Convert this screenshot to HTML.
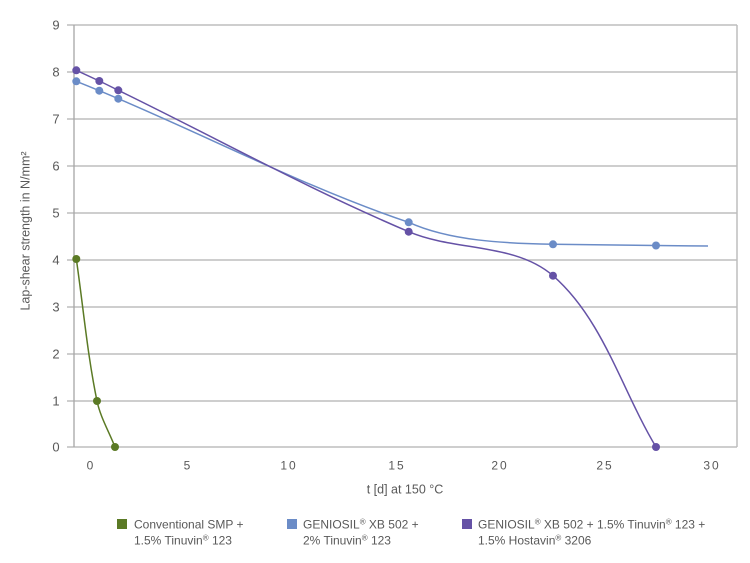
<!DOCTYPE html>
<html>
<head>
<meta charset="utf-8">
<style>
  html,body{margin:0;padding:0;background:#fff;}
  body{width:750px;height:563px;overflow:hidden;}
  svg{display:block;}
  text{font-family:"Liberation Sans",Arial,sans-serif;fill:#595959;}
</style>
</head>
<body>
<svg width="750" height="563" viewBox="0 0 750 563" xmlns="http://www.w3.org/2000/svg">
  <!-- gridlines -->
  <g stroke="#bdbdbd" stroke-width="1.5" fill="none">
    <line x1="67" y1="25" x2="737" y2="25"/>
    <line x1="67" y1="72" x2="737" y2="72"/>
    <line x1="67" y1="119" x2="737" y2="119"/>
    <line x1="67" y1="166" x2="737" y2="166"/>
    <line x1="67" y1="213" x2="737" y2="213"/>
    <line x1="67" y1="260" x2="737" y2="260"/>
    <line x1="67" y1="307" x2="737" y2="307"/>
    <line x1="67" y1="354" x2="737" y2="354"/>
    <line x1="67" y1="401" x2="737" y2="401"/>
    <line x1="67" y1="447" x2="737" y2="447"/>
    <line x1="737" y1="25" x2="737" y2="447"/>
  </g>
  <line x1="74" y1="25" x2="74" y2="447" stroke="#a6a6a6" stroke-width="1.3"/>

  <!-- y tick labels -->
  <g font-size="13" text-anchor="middle">
    <text x="56" y="29.5">9</text>
    <text x="56" y="76.5">8</text>
    <text x="56" y="123.5">7</text>
    <text x="56" y="170.5">6</text>
    <text x="56" y="217.5">5</text>
    <text x="56" y="264.5">4</text>
    <text x="56" y="311.5">3</text>
    <text x="56" y="358.5">2</text>
    <text x="56" y="405.5">1</text>
    <text x="56" y="451.5">0</text>
  </g>

  <!-- x tick labels -->
  <g font-size="12" text-anchor="middle" letter-spacing="2">
    <text x="91" y="469.5">0</text>
    <text x="188" y="469.5">5</text>
    <text x="289" y="469.5">10</text>
    <text x="397" y="469.5">15</text>
    <text x="500" y="469.5">20</text>
    <text x="605" y="469.5">25</text>
    <text x="712" y="469.5">30</text>
  </g>

  <!-- axis titles -->
  <text x="405" y="493.5" font-size="12.5" text-anchor="middle">t [d] at 150 °C</text>
  <text transform="translate(29.5,231) rotate(-90)" font-size="12.5" text-anchor="middle">Lap-shear strength in N/mm²</text>

  <!-- green series -->
  <path d="M76.3,259 C83.2,306.3 87.3,354.2 97,401 C100.35,417.15 109,431.6 115,447"
        fill="none" stroke="#5b7a25" stroke-width="1.5"/>
  <g fill="#5b7a25">
    <circle cx="76.3" cy="259" r="4"/>
    <circle cx="97" cy="401" r="4"/>
    <circle cx="115" cy="447" r="4"/>
  </g>

  <!-- blue series -->
  <path d="M76.3,81.3 C84,84.4 91.65,87.5 99.3,90.7 C105.65,93.3 112,96 118.3,98.7 C215.1,139.8 309,188.8 408.7,222.3 C450,241 504.3,243.3 553,244.3 C587.3,244.5 621.7,245.4 656,245.5 C673,245.7 690.7,245.9 708,246"
        fill="none" stroke="#6b8cc7" stroke-width="1.5"/>
  <g fill="#6b8cc7">
    <circle cx="76.3" cy="81.3" r="4"/>
    <circle cx="99.3" cy="90.7" r="4"/>
    <circle cx="118.3" cy="98.7" r="4"/>
    <circle cx="408.7" cy="222.3" r="4"/>
    <circle cx="553" cy="244.3" r="4"/>
    <circle cx="656" cy="245.5" r="4"/>
  </g>

  <!-- purple series -->
  <path d="M76.3,70.3 C84,73.9 91.7,77.4 99.3,81 C105.7,84 112,87.2 118.3,90.3 C221.4,140.5 303.2,186.7 408.7,231.7 C455,251.4 515.1,242.7 553,275.7 C603.2,319.5 621.7,389.9 656,447"
        fill="none" stroke="#6552a6" stroke-width="1.5"/>
  <g fill="#6552a6">
    <circle cx="76.3" cy="70.3" r="4"/>
    <circle cx="99.3" cy="81" r="4"/>
    <circle cx="118.3" cy="90.3" r="4"/>
    <circle cx="408.7" cy="231.7" r="4"/>
    <circle cx="553" cy="275.7" r="4"/>
    <circle cx="656" cy="447" r="4"/>
  </g>

  <!-- legend -->
  <rect x="117" y="519" width="10" height="10" fill="#5b7a25"/>
  <text x="134" y="528.5" font-size="12">Conventional SMP +</text>
  <text x="134" y="544.5" font-size="12">1.5% Tinuvin<tspan font-size="8" dy="-4">®</tspan><tspan dy="4"> 123</tspan></text>

  <rect x="287" y="519" width="10" height="10" fill="#6b8cc7"/>
  <text x="303" y="528.5" font-size="12">GENIOSIL<tspan font-size="8" dy="-4">®</tspan><tspan dy="4"> XB 502 +</tspan></text>
  <text x="303" y="544.5" font-size="12">2% Tinuvin<tspan font-size="8" dy="-4">®</tspan><tspan dy="4"> 123</tspan></text>

  <rect x="462" y="519" width="10" height="10" fill="#6552a6"/>
  <text x="478" y="528.5" font-size="12">GENIOSIL<tspan font-size="8" dy="-4">®</tspan><tspan dy="4"> XB 502 + 1.5% Tinuvin</tspan><tspan font-size="8" dy="-4">®</tspan><tspan dy="4"> 123 +</tspan></text>
  <text x="478" y="544.5" font-size="12">1.5% Hostavin<tspan font-size="8" dy="-4">®</tspan><tspan dy="4"> 3206</tspan></text>
</svg>
</body>
</html>
